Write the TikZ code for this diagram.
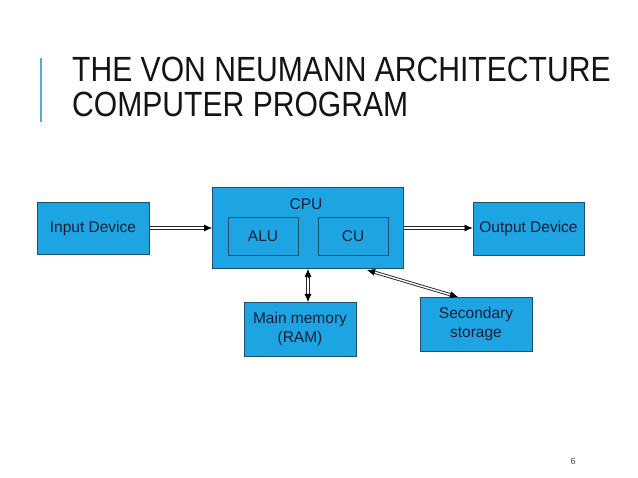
\documentclass[tikz,border=0pt]{standalone}
\usepackage{fontspec}
\setmainfont{Liberation Sans}
\newfontfamily\titlefont[FakeStretch=0.86]{Liberation Sans}
\usetikzlibrary{arrows.meta,calc}
\definecolor{boxfill}{RGB}{29,164,226}
\definecolor{boxline}{RGB}{30,80,110}
\definecolor{boxtext}{RGB}{25,30,55}
\definecolor{titlecol}{RGB}{20,20,20}
\definecolor{barcol}{RGB}{90,170,200}
\tikzset{
  blk/.style={draw=boxline, line width=0.8pt, fill=boxfill, inner sep=0pt, text=boxtext, font=\fontsize{15.5}{18}\selectfont, align=center},
  outerln/.style={draw=black!85, line width=3.2pt},
  innerln/.style={draw=white, line width=1.4pt},
  tipln/.style={draw=black, line width=0.5pt, -{Latex[length=8pt,width=7pt]}}
}
\newcommand{\dblarrow}[2]{%
  \draw[outerln, shorten >=6pt] (#1) -- (#2);
  \draw[innerln, shorten >=6pt] (#1) -- (#2);
  \draw[tipln] ($(#2)!8pt!(#1)$) -- (#2);}
\newcommand{\dbltwo}[2]{%
  \draw[outerln, shorten >=6pt, shorten <=6pt] (#1) -- (#2);
  \draw[innerln, shorten >=6pt, shorten <=6pt] (#1) -- (#2);
  \draw[tipln] ($(#2)!8pt!(#1)$) -- (#2);
  \draw[tipln] ($(#1)!8pt!(#2)$) -- (#1);}
\begin{document}
\begin{tikzpicture}[x=1pt,y=-1pt]
\useasboundingbox (0,0) rectangle (638,478);
\fill[white] (0,0) rectangle (638,478);
% title
\draw[barcol, line width=1.2pt] (41,58) -- (41,122);
\node[anchor=base west, inner sep=0pt, text=titlecol, font=\titlefont\fontsize{35}{40}\selectfont] (t1) at (72,82) {THE VON NEUMANN ARCHITECTURE};
\node[anchor=base west, inner sep=0pt, text=titlecol, font=\titlefont\fontsize{35}{40}\selectfont] (t2) at (72,117) {COMPUTER PROGRAM};
% boxes
\node[blk, minimum width=112pt, minimum height=52pt] (in) at (93,228) {Input Device};
\node[blk, minimum width=191pt, minimum height=81pt] (cpu) at (307.5,227.5) {};
\node[text=boxtext, font=\fontsize{15.5}{18}\selectfont, inner sep=0pt] (cpul) at (306,204) {CPU};
\node[blk, minimum width=70pt, minimum height=38pt] (alu) at (263,236) {ALU};
\node[blk, minimum width=70pt, minimum height=38pt] (cu) at (353,236) {CU};
\node[blk, minimum width=111pt, minimum height=53pt] (out) at (528.5,228.5) {Output Device};
\node[blk, minimum width=112pt, minimum height=54pt, font=\fontsize{15.5}{18.5}\selectfont] (sec) at (476,324) {Secondary\\ storage};
\node[blk, minimum width=112pt, minimum height=54pt, font=\fontsize{15.5}{18.5}\selectfont] (mem) at (300,329) {Main memory\\(RAM)};
% connectors
\coordinate (inr) at (149.5,228);
\coordinate (cpuin) at (212,228);
\coordinate (cpuout) at (403.5,228);
\coordinate (outl) at (472.5,228);
\dblarrow{inr}{cpuin}
\dblarrow{cpuout}{outl}
\coordinate (mtop) at (308,302);
\coordinate (cbot) at (308,269);
\dbltwo{mtop}{cbot}
\coordinate (s1) at (367,270);
\coordinate (s2) at (458,297);
\dbltwo{s1}{s2}
% page number
\node[text=black!70, font=\fontsize{9}{10}\selectfont, inner sep=0pt] (pg) at (573,461) {6};
\end{tikzpicture}
\end{document}
